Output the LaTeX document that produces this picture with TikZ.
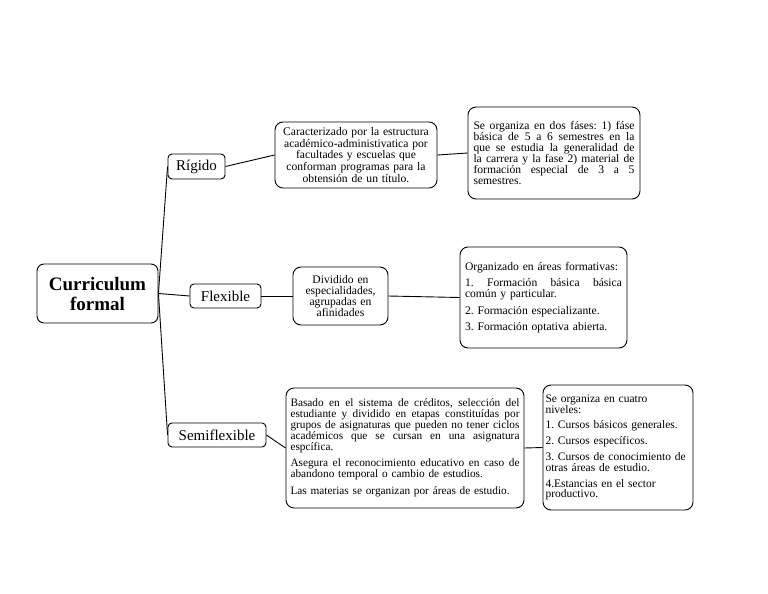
\documentclass[tikz,border=0pt]{standalone}
\usepackage{fontspec}
\setmainfont{Liberation Serif}
\frenchspacing
\newcommand{\jl}[2]{\leavevmode\hbox to #1{\spaceskip=0.25em plus 1fil\relax #2}\\}
\begin{document}
\begin{tikzpicture}[x=1pt,y=-1pt,
  box/.style={draw, line width=0.9pt, rounded corners=8pt, inner sep=0pt},
  lab/.style={draw, line width=0.9pt, rounded corners=4pt, inner sep=0pt, font=\fontsize{15}{16}\selectfont},
  conn/.style={line width=0.9pt},
  small/.style={font=\fontsize{11.6}{11}\selectfont}
]
\useasboundingbox (0,0) rectangle (768,594);

\node[box, rounded corners=7pt, minimum width=121pt, minimum height=59pt, align=center,
  font=\bfseries\fontsize{19}{20}\selectfont] (cf) at (97.5,293.5) {Curriculum\\formal};

\node[lab, minimum width=57pt, minimum height=25pt] (rig) at (196.5,166.5) {Rígido};
\node[lab, minimum width=71pt, minimum height=24pt] (flex) at (225.5,296) {Flexible};
\node[lab, minimum width=98pt, minimum height=24pt] (semi) at (217,435) {Semiflexible};

\node[box, font=\fontsize{11.6}{10.3}\selectfont, minimum width=162pt, minimum height=66pt,
  text width=156pt, align=center] (car) at (356,155)
  {Caracterizado por la estructura\\académico-administivatica por\\facultades y escuelas que\\conforman programas para la\\obtensión de un título.};

\node[box, small, minimum width=172pt, minimum height=92pt, text width=161pt, align=left] (fas) at (554,153)
  {\jl{161pt}{Se organiza en dos fáses: 1) fáse}
   \jl{161pt}{básica de 5 a 6 semestres en la}
   \jl{161pt}{que se estudia la generalidad de}
   \jl{161pt}{la carrera y la fase 2) material de}
   \jl{161pt}{formación especial de 3 a 5}
   semestres.};

\node[box, font=\fontsize{11.6}{11.3}\selectfont, minimum width=95pt, minimum height=58pt,
  text width=90pt, align=center] (div) at (340.5,296)
  {Dividido en\\especialidades,\\agrupadas en\\afinidades};

\node[box, small, minimum width=167pt, minimum height=101pt, text width=157pt, align=left] (org) at (543.5,297.5)
  {Organizado en áreas formativas:\\[5.5pt]
   \jl{157pt}{1. Formación básica básica}
   común y particular.\\[5.5pt]
   2. Formación especializante.\\[5.5pt]
   3. Formación optativa abierta.};

\node[box, font=\fontsize{11.3}{10.8}\selectfont, minimum width=238pt, minimum height=120pt, text width=229pt, align=left] (bas) at (405,448)
  {\jl{229pt}{Basado en el sistema de créditos, selección del}
   \jl{229pt}{estudiante y dividido en etapas constituídas por}
   \jl{229pt}{grupos de asignaturas que pueden no tener ciclos}
   \jl{229pt}{académicos que se cursan en una asignatura}
   espcífica.\\[6pt]
   \jl{229pt}{Asegura el reconocimiento educativo en caso de}
   abandono temporal o cambio de estudios.\\[6pt]
   Las materias se organizan por áreas de estudio.};

\node[box, font=\fontsize{11.5}{10.8}\selectfont, minimum width=150pt, minimum height=125pt, text width=145pt, align=left] (niv) at (618,447.5)
  {Se organiza en cuatro\\
   niveles:\\[5pt]
   1. Cursos básicos generales.\\[5pt]
   2. Cursos específicos.\\[5pt]
   3. Cursos de conocimiento de\\
   otras áreas de estudio.\\[5pt]
   4.Estancias en el sector\\
   productivo.};

\draw[conn] (cf.east) -- (rig.west);
\draw[conn] (cf.east) -- (flex.west);
\draw[conn] (cf.east) -- (semi.west);
\draw[conn] (rig.east) -- (car.west);
\draw[conn] (car.east) -- (fas.west);
\draw[conn] (flex.east) -- (div.west);
\draw[conn] (div.east) -- (org.west);
\draw[conn] (semi.east) -- (bas.west);
\draw[conn] (bas.east) -- (niv.west);
\end{tikzpicture}
\end{document}
